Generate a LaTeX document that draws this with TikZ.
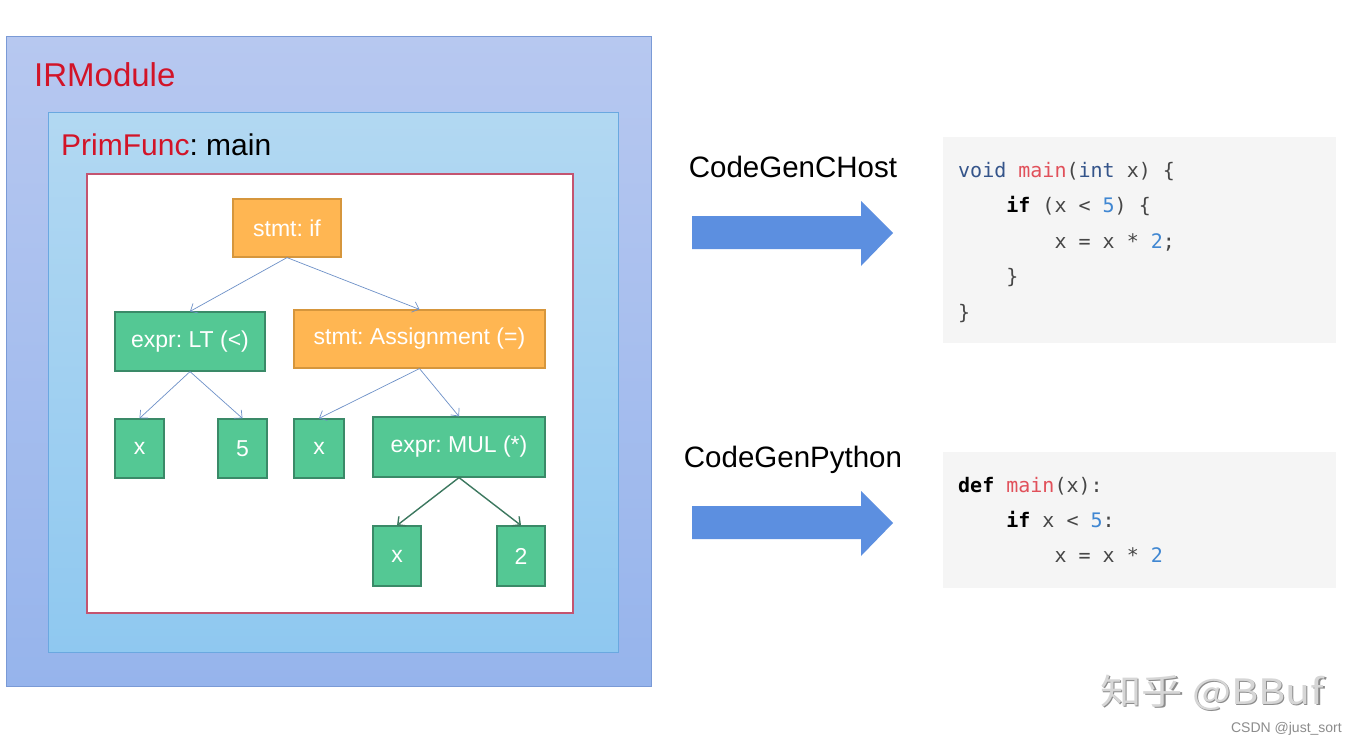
\documentclass[tikz,border=0pt]{standalone}
\usepackage{fontspec}
\setmainfont{Liberation Sans}
\setmonofont{DejaVu Sans Mono}
\newfontfamily\cjkfont{Noto Sans CJK SC}
\usetikzlibrary{arrows.meta}
\frenchspacing
\definecolor{outerTop}{RGB}{183,200,240}
\definecolor{outerBot}{RGB}{150,180,236}
\definecolor{outerLine}{RGB}{122,154,214}
\definecolor{innerTop}{RGB}{178,216,242}
\definecolor{innerBot}{RGB}{143,200,240}
\definecolor{innerLine}{RGB}{106,168,224}
\definecolor{treeLine}{RGB}{196,84,112}
\definecolor{labRed}{RGB}{210,20,40}
\definecolor{orFill}{RGB}{255,182,82}
\definecolor{orLine}{RGB}{214,150,60}
\definecolor{grFill}{RGB}{84,200,148}
\definecolor{grLine}{RGB}{58,138,104}
\definecolor{edgeBlue}{RGB}{110,145,200}
\definecolor{edgeGreen}{RGB}{60,120,95}
\definecolor{bigArrow}{RGB}{92,143,224}
\definecolor{codeBg}{RGB}{245,245,245}
\definecolor{kwBlue}{RGB}{52,84,138}
\definecolor{fnRed}{RGB}{225,80,90}
\definecolor{numBlue}{RGB}{64,135,210}
\definecolor{plainC}{RGB}{70,70,70}
\tikzset{
  ornode/.style={draw=orLine, line width=1.2pt, fill=orFill, text=white, font=\fontsize{23}{25}\selectfont, inner sep=0pt},
  grnode/.style={draw=grLine, line width=1.2pt, fill=grFill, text=white, font=\fontsize{23}{25}\selectfont, inner sep=0pt},
  bedge/.style={draw=edgeBlue, line width=0.7pt, -{Straight Barb[length=6pt,width=11pt]}},
  gedge/.style={draw=edgeGreen, line width=1.4pt, -{Straight Barb[length=6pt,width=12pt]}},
  codeline/.style={anchor=base west, inner sep=0pt, font=\fontsize{20}{22}\ttfamily, text=plainC},
  biglabel/.style={anchor=base, inner sep=0pt, font=\fontsize{29.5}{32}\selectfont},
  bigarrow/.style={fill=bigArrow, draw=none},
  wmark/.style={anchor=base west, inner sep=0pt, font=\cjkfont\fontsize{35}{37}\selectfont, xscale=1.18, transform shape}
}
\begin{document}
\begin{tikzpicture}[x=1pt,y=-1pt]
\useasboundingbox (0,0) rectangle (1358,744);
\fill[white] (0,0) rectangle (1358,744);
% outer IRModule box
\shade[top color=outerTop, bottom color=outerBot] (6,36) rectangle (651,686);
\draw[outerLine, line width=0.8pt] (6,36) rectangle (651,686);
\node[anchor=base west, inner sep=0pt, text=labRed, font=\fontsize{33}{36}\selectfont] (irm) at (34,86) {IRModule};
% PrimFunc box
\shade[top color=innerTop, bottom color=innerBot] (48,112) rectangle (618,652);
\draw[innerLine, line width=0.8pt] (48,112) rectangle (618,652);
\node[anchor=base west, inner sep=0pt, font=\fontsize{30}{33}\selectfont] (pf) at (61,155) {\textcolor{labRed}{PrimFunc}: main};
% white tree box
\draw[treeLine, line width=1.5pt, fill=white] (87,174) rectangle (573,613);
% tree nodes
\node[ornode, minimum width=108pt, minimum height=58pt] (if) at (287,228) {stmt: if};
\node[grnode, minimum width=150pt, minimum height=59pt] (lt) at (190,341.5) {expr: LT (<)};
\node[ornode, minimum width=251pt, minimum height=58pt] (asg) at (419.5,339) {stmt: Assignment (=)};
\node[grnode, minimum width=49pt, minimum height=59pt] (xa) at (139.5,448.5) {x};
\node[grnode, minimum width=49pt, minimum height=59pt] (five) at (242.5,448.5) {5};
\node[grnode, minimum width=50pt, minimum height=59pt] (xb) at (319,448.5) {x};
\node[grnode, minimum width=172pt, minimum height=60pt] (mul) at (459,447) {expr: MUL (*)};
\node[grnode, minimum width=48pt, minimum height=60pt] (xc) at (397,556) {x};
\node[grnode, minimum width=48pt, minimum height=60pt] (two) at (521,556) {2};
% tree edges
\draw[bedge] (if.south) -- (lt.north);
\draw[bedge] (if.south) -- (asg.north);
\draw[bedge] (lt.south) -- (xa.north);
\draw[bedge] (lt.south) -- (five.north);
\draw[bedge] (asg.south) -- (xb.north);
\draw[bedge] (asg.south) -- (mul.north);
\draw[gedge] (mul.south) -- (xc.north);
\draw[gedge] (mul.south) -- (two.north);
% CodeGen labels and arrows
\node[biglabel] (cgc) at (793,177) {CodeGenCHost};
\fill[bigarrow] (692,216) -- (861,216) -- (861,201) -- (893,233) -- (861,266) -- (861,249) -- (692,249) -- cycle;
\node[biglabel] (cgp) at (793,467) {CodeGenPython};
\fill[bigarrow] (692,506) -- (861,506) -- (861,491) -- (893,523) -- (861,556) -- (861,539) -- (692,539) -- cycle;
% C code block
\fill[codeBg] (943,137) rectangle (1336,343);
\node[codeline] (c1) at (958,177) {\textcolor{kwBlue}{void} \textcolor{fnRed}{main}(\textcolor{kwBlue}{int} x) \{};
\node[codeline] (c2) at (958,212) {\ \ \ \ \textbf{\textcolor{black}{if}} (x < \textcolor{numBlue}{5}) \{};
\node[codeline] (c3) at (958,248) {\ \ \ \ \ \ \ \ x = x * \textcolor{numBlue}{2};};
\node[codeline] (c4) at (958,283) {\ \ \ \ \}};
\node[codeline] (c5) at (958,319) {\}};
% Python code block
\fill[codeBg] (943,452) rectangle (1336,588);
\node[codeline] (p1) at (958,492) {\textbf{\textcolor{black}{def}} \textcolor{fnRed}{main}(x):};
\node[codeline] (p2) at (958,527) {\ \ \ \ \textbf{\textcolor{black}{if}} x < \textcolor{numBlue}{5}:};
\node[codeline] (p3) at (958,562) {\ \ \ \ \ \ \ \ x = x * \textcolor{numBlue}{2}};
% watermarks
\node[wmark, text=black!45] (wms) at (1101.5,705.5) {知乎 @BBuf};
\node[wmark, text=black!16] (wm) at (1100,704) {知乎 @BBuf};
\node[anchor=base east, inner sep=0pt, text=black!45, font=\fontsize{14}{16}\selectfont] (csdn) at (1342,732) {CSDN @just\_sort};
\end{tikzpicture}
\end{document}
